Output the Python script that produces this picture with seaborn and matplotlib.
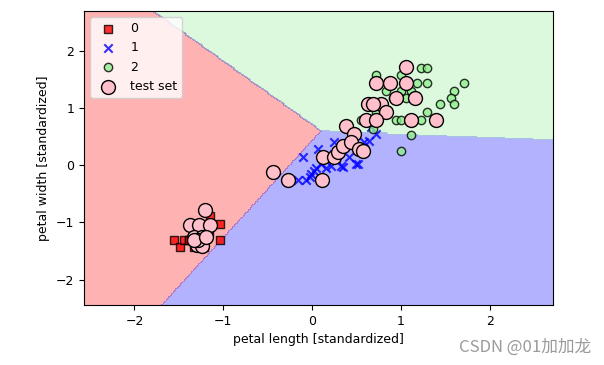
import numpy as np
import pandas as pd
import matplotlib
matplotlib.use('Agg')
import matplotlib.pyplot as plt
from matplotlib.colors import ListedColormap
import seaborn as sns

# training points (standardized petal length, petal width)
x0_train = [-1.56, -1.49, -1.44, -1.04, -1.04, -1.15, -1.39, -1.33, -1.28, -1.22, -1.16, -1.22, -1.33, -1.28, -1.39, -1.28, -1.22]
y0_train = [-1.30, -1.43, -1.30, -1.30, -1.03, -0.89, -1.30, -1.30, -1.18, -1.30, -1.17, -1.04, -1.43, -1.43, -1.30, -1.30, -1.43]

x1_train = [-0.16, -0.07, -0.03, -0.01, 0.02, 0.04, -0.10, 0.07, 0.10, 0.16, 0.21, 0.25, 0.24, 0.32, 0.41, 0.52,
            0.64, 0.72, 0.66, 0.58, 0.35, 0.49, 0.27, 0.12]
y1_train = [-0.26, -0.26, -0.21, -0.16, -0.10, -0.05, 0.14, 0.28, 0.02, -0.05, -0.02, 0.19, 0.40, -0.02, 0.14, 0.02,
            0.42, 0.54, 0.66, 0.40, -0.03, 0.02, 0.10, 0.14]

x2_train = [1.22, 1.29, 0.72, 1.00, 1.18, 1.29, 1.71, 1.60, 1.56, 1.60, 1.44, 1.29, 1.22, 0.94, 1.00, 1.11,
            0.91, 1.05, 1.00, 1.11, 0.55, 0.72, 1.00, 0.68, 0.77, 0.83]
y2_train = [1.70, 1.70, 1.58, 1.57, 1.44, 1.44, 1.44, 1.30, 1.18, 1.06, 1.06, 0.92, 0.78, 0.78, 0.78, 0.52,
            1.18, 1.18, 1.30, 1.30, 0.78, 0.92, 0.24, 0.63, 1.06, 1.30]

# test set points
x_test = [-1.21, -1.38, -1.27, -1.15, -1.33, -1.24, -1.30, -1.24, -1.28, -1.33, -1.20,
          -0.44, -0.27, 0.11, 0.12, 0.24, 0.29, 0.35, 0.38, 0.47, 0.44, 0.53, 0.57,
          1.05, 0.72, 0.88, 1.05, 0.94, 1.16, 0.63, 0.77, 0.83, 0.60, 0.72, 1.11, 1.39, 0.68]
y_test = [-0.78, -1.04, -1.04, -1.04, -1.25, -1.25, -1.39, -1.41, -1.30, -1.30, -1.25,
          -0.12, -0.26, -0.26, 0.14, 0.14, 0.23, 0.33, 0.68, 0.54, 0.40, 0.28, 0.24,
          1.72, 1.44, 1.44, 1.44, 1.18, 1.18, 1.06, 1.06, 0.92, 0.78, 0.78, 0.78, 0.78, 1.06]

# linear decision scores per class (w_x, w_y, b), read from the region boundaries
weights = [[-3.04, 1.79, -0.77],
           [0.0, 0.0, 0.0],
           [0.293, 4.795, -2.906]]

colors = ['red', 'blue', 'lightgreen']
markers = ['s', 'x', 'o']

plt.rcParams['font.size'] = 9

fig = plt.figure(figsize=(6.04, 3.65), dpi=100)
ax = fig.add_axes([0.139, 0.164, 0.777, 0.806])

x_min, x_max = -2.568, 2.72
y_min, y_max = -2.446, 2.712
xx1, xx2 = np.meshgrid(np.arange(x_min, x_max, 0.02), np.arange(y_min, y_max, 0.02))
W = np.array(weights)
scores = np.stack([W[k, 0] * xx1 + W[k, 1] * xx2 + W[k, 2] for k in range(3)])
Z = np.argmax(scores, axis=0)
ax.contourf(xx1, xx2, Z, alpha=0.3, cmap=ListedColormap(colors), levels=[-0.5, 0.5, 1.5, 2.5])
ax.set_xlim(xx1.min(), xx1.max())
ax.set_ylim(xx2.min(), xx2.max())

train = [(x0_train, y0_train), (x1_train, y1_train), (x2_train, y2_train)]
for idx, (xs, ys) in enumerate(train):
    df = pd.DataFrame({'x': xs, 'y': ys})
    sns.scatterplot(data=df, x='x', y='y', ax=ax, color=colors[idx], marker=markers[idx],
                    alpha=0.8, edgecolor='black', linewidth=1 if idx != 1 else 1.5, s=36,
                    label=str(idx))

df_test = pd.DataFrame({'x': x_test, 'y': y_test})
sns.scatterplot(data=df_test, x='x', y='y', ax=ax, color='pink', edgecolor='black',
                alpha=1.0, linewidth=1, marker='o', s=100, label='test set')

ax.set_xlabel('petal length [standardized]')
ax.set_ylabel('petal width [standardized]')
ax.set_xticks([-2, -1, 0, 1, 2])
ax.set_yticks([-2, -1, 0, 1, 2])
ax.legend(loc='upper left')

fig.text(0.978, 0.025, 'CSDN @01加加龙', ha='right', va='bottom', fontsize=12, color='#9a9a9a',
         family=['Noto Sans CJK SC', 'DejaVu Sans'])

fig.savefig('out.png', dpi=100)
